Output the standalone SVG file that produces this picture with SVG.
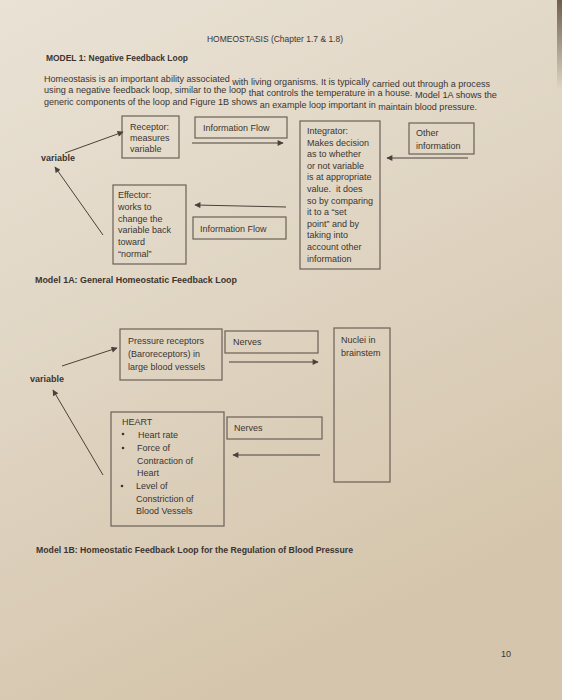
<svg xmlns="http://www.w3.org/2000/svg" width="562" height="700" viewBox="0 0 562 700">
<defs>
<linearGradient id="paper" x1="0" y1="0" x2="0.4" y2="1">
<stop offset="0" stop-color="#e9e2d5"/>
<stop offset="0.5" stop-color="#e0d5c3"/>
<stop offset="1" stop-color="#d5c5ac"/>
</linearGradient>
<linearGradient id="edge" x1="0" y1="0" x2="0" y2="1">
<stop offset="0" stop-color="#6e5e4e"/>
<stop offset="1" stop-color="#6e5e4e" stop-opacity="0"/>
</linearGradient>
<marker id="ah" viewBox="0 0 10 10" refX="9" refY="5" markerWidth="7" markerHeight="6" markerUnits="userSpaceOnUse" orient="auto">
<path d="M0,0 L10,5 L0,10 z" fill="#4a423a"/>
</marker>
</defs>
<style>
.t{font-family:"Liberation Sans",Arial,sans-serif;fill:#3b3430;font-size:9px}
.b{font-weight:bold}
.p{font-size:9px}
.box{fill:none;stroke:#6a6056;stroke-width:1.2}
.con{stroke:#4a423a;stroke-width:1;fill:none;marker-end:url(#ah)}
</style>
<rect x="0" y="0" width="562" height="700" fill="url(#paper)"/>
<rect x="557" y="0" width="5" height="90" fill="url(#edge)"/>

<g id="header">
<text class="t" x="207" y="42" font-size="8.5" textLength="136" lengthAdjust="spacingAndGlyphs">HOMEOSTASIS (Chapter 1.7 &amp; 1.8)</text>
<text class="t b" x="46" y="61" font-size="8.5" textLength="142" lengthAdjust="spacingAndGlyphs">MODEL 1: Negative Feedback Loop</text>
<text class="t p" x="44" y="81.7" textLength="185.8" lengthAdjust="spacingAndGlyphs">Homeostasis is an important ability associated</text>
<text class="t p" x="232.3" y="84.6" textLength="137.4" lengthAdjust="spacingAndGlyphs">with living organisms. It is typically</text>
<text class="t p" x="372.2" y="87" textLength="117.8" lengthAdjust="spacingAndGlyphs">carried out through a process</text>
<text class="t p" x="44" y="92.8" textLength="202.2" lengthAdjust="spacingAndGlyphs">using a negative feedback loop, similar to the loop</text>
<text class="t p" x="248.7" y="96.2" textLength="163.7" lengthAdjust="spacingAndGlyphs">that controls the temperature in a house.</text>
<text class="t p" x="414.9" y="98.4" textLength="82.1" lengthAdjust="spacingAndGlyphs">Model 1A shows the</text>
<text class="t p" x="44" y="104.9" textLength="213.2" lengthAdjust="spacingAndGlyphs">generic components of the loop and Figure 1B shows</text>
<text class="t p" x="259.8" y="107.9" textLength="115.9" lengthAdjust="spacingAndGlyphs">an example loop important in</text>
<text class="t p" x="378.2" y="109.9" textLength="98.8" lengthAdjust="spacingAndGlyphs">maintain blood pressure.</text>
</g>

<!-- Model 1A -->
<g id="variableA"><text class="t b" x="41" y="161" font-size="8.5">variable</text></g>
<g id="receptor">
<rect class="box" x="122" y="116" width="57" height="42"/>
<text class="t" x="130" y="130">Receptor:</text>
<text class="t" x="130" y="141">measures</text>
<text class="t" x="130" y="152">variable</text>
</g>
<g id="infoflow1">
<rect class="box" x="195" y="117" width="92" height="21"/>
<text class="t" x="203" y="131" font-size="9.3">Information Flow</text>
</g>
<g id="integrator">
<rect class="box" x="300" y="121" width="80" height="148"/>
<text class="t" x="307" y="134">Integrator:</text>
<text class="t" x="307" y="145.6">Makes decision</text>
<text class="t" x="307" y="157.2">as to whether</text>
<text class="t" x="307" y="168.8">or not variable</text>
<text class="t" x="307" y="180.4">is at appropriate</text>
<text class="t" x="307" y="192" xml:space="preserve">value.  it does</text>
<text class="t" x="307" y="203.6">so by comparing</text>
<text class="t" x="307" y="215.2">it to a “set</text>
<text class="t" x="307" y="226.8">point” and by</text>
<text class="t" x="307" y="238.4">taking into</text>
<text class="t" x="307" y="250">account other</text>
<text class="t" x="307" y="261.6">information</text>
</g>
<g id="otherinfo">
<rect class="box" x="409" y="123" width="65" height="31"/>
<text class="t" x="416" y="136">Other</text>
<text class="t" x="416" y="148.5">information</text>
</g>
<g id="effector">
<rect class="box" x="113" y="185" width="73" height="79"/>
<text class="t" x="118" y="198">Effector:</text>
<text class="t" x="118" y="210">works to</text>
<text class="t" x="118" y="221.5">change the</text>
<text class="t" x="118" y="233">variable back</text>
<text class="t" x="118" y="245">toward</text>
<text class="t" x="118" y="256.5">“normal”</text>
</g>
<g id="infoflow2">
<rect class="box" x="193" y="217" width="93" height="22"/>
<text class="t" x="200" y="231.5" font-size="9.3">Information Flow</text>
</g>
<g id="captionA"><text class="t b" x="35" y="283" font-size="9" textLength="202" lengthAdjust="spacingAndGlyphs">Model 1A: General Homeostatic Feedback Loop</text></g>

<!-- Model 1B -->
<g id="variableB"><text class="t b" x="30" y="382" font-size="8.5">variable</text></g>
<g id="pressure">
<rect class="box" x="120" y="329" width="102" height="51"/>
<text class="t" x="128" y="344" font-size="9.8">Pressure receptors</text>
<text class="t" x="128" y="357" font-size="9.8">(Baroreceptors) in</text>
<text class="t" x="128" y="370" font-size="9.8">large blood vessels</text>
</g>
<g id="nerves1">
<rect class="box" x="225" y="331" width="93" height="22"/>
<text class="t" x="233" y="344.5" font-size="9.5">Nerves</text>
</g>
<g id="nuclei">
<rect class="box" x="334" y="328" width="56" height="154"/>
<text class="t" x="341" y="342.5" font-size="9.5">Nuclei in</text>
<text class="t" x="341" y="355.5" font-size="9.5">brainstem</text>
</g>
<g id="heart">
<rect class="box" x="111" y="412" width="113" height="114"/>
<text class="t" x="122" y="425" font-size="9.8">HEART</text>
<circle cx="123" cy="434" r="1.3" fill="#3b3430"/>
<text class="t" x="138" y="437.5" font-size="9.8">Heart rate</text>
<circle cx="123" cy="448" r="1.3" fill="#3b3430"/>
<text class="t" x="137" y="451" font-size="9.8">Force of</text>
<text class="t" x="137" y="463.5" font-size="9.8">Contraction of</text>
<text class="t" x="137" y="475.5" font-size="9.8">Heart</text>
<circle cx="122" cy="486" r="1.3" fill="#3b3430"/>
<text class="t" x="136" y="489" font-size="9.8">Level of</text>
<text class="t" x="136" y="501.5" font-size="9.8">Constriction of</text>
<text class="t" x="136" y="513.5" font-size="9.8">Blood Vessels</text>
</g>
<g id="nerves2">
<rect class="box" x="227" y="417" width="95" height="22"/>
<text class="t" x="234" y="430.5" font-size="9.5">Nerves</text>
</g>
<g id="captionB"><text class="t b" x="36" y="553" font-size="9" textLength="317" lengthAdjust="spacingAndGlyphs">Model 1B: Homeostatic Feedback Loop for the Regulation of Blood Pressure</text></g>
<g id="pagenum"><text class="t" x="501" y="657" font-size="9">10</text></g>

<g id="connectors">
<line class="con" x1="65" y1="153" x2="123" y2="132"/>
<line class="con" x1="192" y1="143" x2="283" y2="143"/>
<line class="con" x1="468" y1="158" x2="387" y2="158"/>
<line class="con" x1="286" y1="207" x2="195" y2="205"/>
<line class="con" x1="103" y1="235" x2="55" y2="167"/>
<line class="con" x1="62" y1="366" x2="117" y2="348"/>
<line class="con" x1="229" y1="362" x2="318" y2="362"/>
<line class="con" x1="320" y1="455" x2="233" y2="455"/>
<line class="con" x1="103" y1="475" x2="53" y2="390"/>
</g>
</svg>
